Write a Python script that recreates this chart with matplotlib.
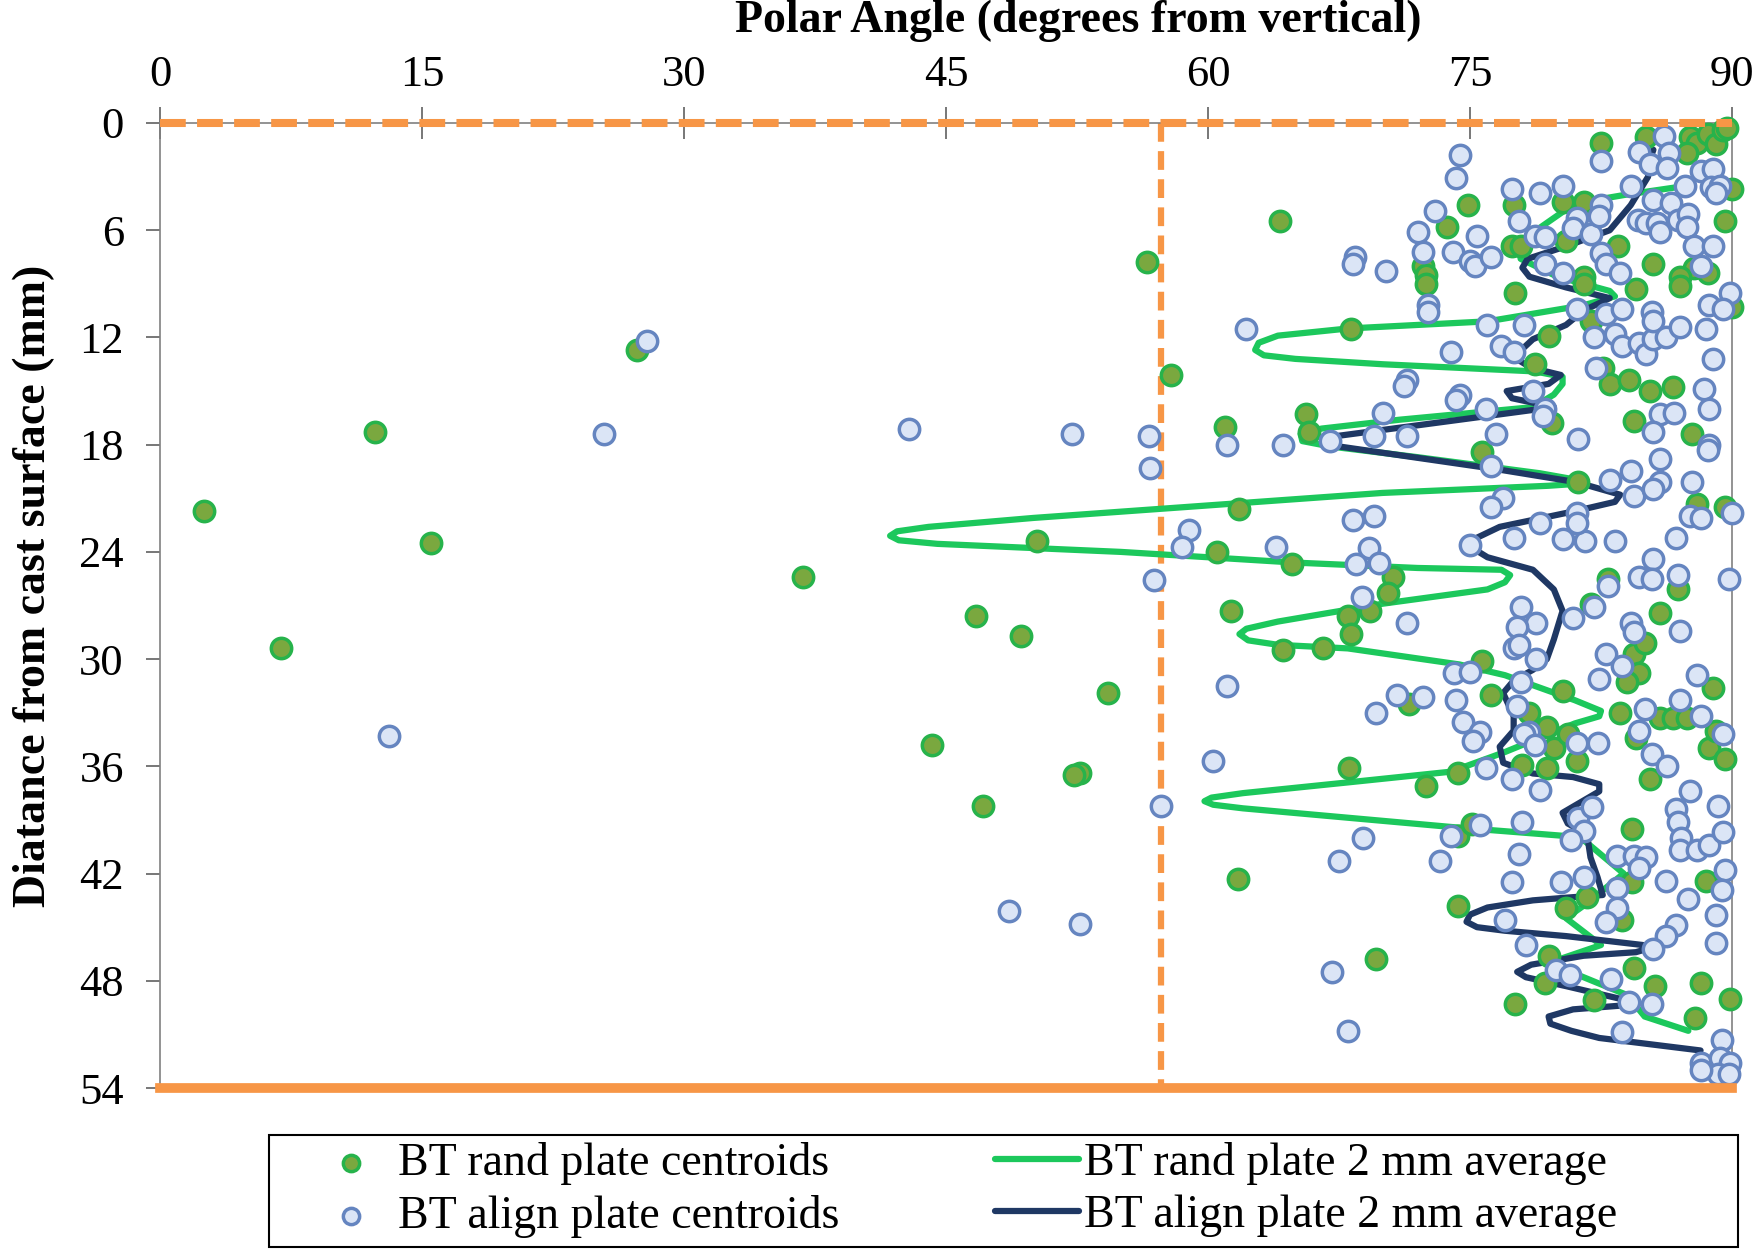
import matplotlib
matplotlib.use("Agg")
import matplotlib.pyplot as plt
from matplotlib.patches import Rectangle

plt.rcParams['font.family'] = ['Liberation Serif', 'DejaVu Serif']

# BT rand plate centroids (angle in degrees, depth in mm)
rand_angle = [56.5, 64.1, 27.3, 57.9, 12.3, 61.0, 2.5, 61.8, 15.5, 50.2, 60.5, 64.8, 36.8, 46.7,
              61.3, 6.9, 49.3, 64.3, 54.3, 44.2, 52.7, 52.3, 47.1, 61.7,
              82.5, 74.9, 73.7, 72.3, 72.5, 77.5, 77.4, 77.9, 80.3, 81.5, 80.5, 83.5, 81.5, 85.5,
              85.1, 87.6, 88.0, 88.6, 89.1, 89.5, 89.7, 87.4, 90.0, 89.6, 87.8, 88.6, 87.0,
              68.2, 72.5, 77.6, 79.5, 78.7, 81.5, 84.5, 87.0, 81.9, 82.6, 83.0, 84.1, 85.3, 86.6,
              84.4, 87.7, 90.0, 65.6, 65.8, 79.7, 75.7,
              81.2, 88.0, 89.6, 70.6, 70.3, 68.0, 69.3, 82.9, 86.9, 81.9, 85.9, 68.2,
              66.6, 75.7, 76.2, 71.5, 80.3, 78.4, 79.4, 79.8, 80.6, 81.1, 78.0, 79.4, 68.1, 74.3,
              72.5, 83.6, 84.4, 85.0, 84.7, 84.0, 85.9, 86.6, 87.4, 84.5, 88.9, 88.7, 89.6, 89.1, 85.3,
              74.3, 75.1, 84.3, 84.3, 88.5, 74.3, 80.5, 81.7, 83.7, 69.6, 79.5,
              77.6, 79.3, 82.1, 84.4, 85.6, 88.2, 89.9, 87.9]
rand_depth = [7.8, 5.5, 12.7, 14.1, 17.3, 17.0, 21.7, 21.6, 23.5, 23.4, 24.0, 24.7, 25.4, 27.6,
              27.3, 29.4, 28.7, 29.5, 31.9, 34.8, 36.4, 36.5, 38.2, 42.3,
              1.1, 4.6, 5.8, 8.0, 8.5, 4.6, 6.9, 6.9, 4.4, 4.4, 6.6, 6.9, 8.6, 7.9,
              0.8, 0.8, 1.1, 0.6, 1.2, 0.4, 0.3, 1.7, 3.7, 5.5, 8.1, 8.4, 8.6,
              11.5, 9.0, 9.5, 11.9, 13.5, 9.0, 9.3, 9.1, 11.1, 13.7, 14.6, 14.4, 15.0, 14.8,
              16.7, 17.4, 10.3, 16.3, 17.3, 16.8, 18.4,
              20.1, 21.3, 21.5, 25.4, 26.3, 27.6, 27.3, 25.5, 26.1, 26.9, 27.4, 28.6,
              29.4, 30.1, 32.0, 32.5, 31.8, 33.0, 33.8, 35.0, 34.2, 35.7, 35.9, 36.1, 36.1, 36.4,
              37.1, 33.0, 29.7, 29.1, 30.8, 31.3, 33.3, 33.3, 33.3, 34.4, 31.6, 35.0, 35.6, 34.0, 36.7,
              39.9, 39.2, 39.5, 42.5, 42.4, 43.8, 43.9, 43.3, 44.6, 46.8, 46.6,
              49.3, 48.1, 49.1, 47.3, 48.3, 48.1, 49.0, 50.1]

# BT align plate centroids
align_angle = [27.9, 25.4, 42.9, 52.2, 56.6, 56.7, 56.9, 13.1, 48.6, 52.7, 62.2, 61.1, 64.3, 58.9,
               58.5, 63.9, 61.1, 60.3, 57.3,
               74.4, 74.2, 73.0, 72.0, 72.3, 68.4, 68.3, 70.2, 75.4, 74.0, 75.0, 75.3, 76.2, 77.4,
               77.8, 79.0, 80.3, 78.7, 79.3, 79.3, 80.3, 81.1, 80.9, 81.9, 82.5, 82.4, 82.5, 82.5,
               82.8, 83.6, 84.2, 84.7, 85.3, 86.1, 86.4, 86.3, 84.6, 85.1, 85.5, 85.7, 85.9, 86.5,
               86.9, 87.5, 87.4, 87.3, 88.2, 88.9, 88.8, 89.3, 89.1, 87.8, 88.9, 88.2,
               72.6, 72.6, 73.9, 71.4, 71.2, 70.0, 69.5, 71.4, 67.0, 74.4, 74.2, 75.9, 76.0, 76.8,
               77.5, 76.5, 78.1, 78.6, 79.3, 79.2, 81.1, 81.2, 82.1, 82.2, 82.8, 83.7, 83.3, 83.7,
               84.7, 85.1, 85.5, 85.4, 85.5, 86.2, 87.0, 88.5, 88.9, 88.7, 89.9, 89.5, 88.4, 88.7,
               85.9, 86.7, 85.5, 88.7,
               68.3, 69.5, 69.2, 68.5, 69.8, 68.8, 71.4, 76.2, 76.9, 76.2, 75.0, 77.5, 79.0, 80.3,
               81.6, 81.1, 81.1, 83.3, 83.0, 84.2, 84.4, 85.9, 85.9, 85.5, 87.7, 87.6, 88.2, 86.8,
               90.0, 85.5, 84.7, 85.4, 86.9, 89.8, 82.9, 77.9, 78.8, 80.9, 82.1, 84.2, 84.4, 88.6,
               69.6, 70.8, 72.3, 74.1, 75.0, 74.2, 74.6, 75.6, 75.2, 77.7, 77.5, 77.8, 78.8, 77.9,
               77.7, 78.4, 78.1, 78.7, 81.1, 82.3, 75.9, 77.4, 79.0, 82.4, 82.8, 83.7, 87.0, 88.0,
               87.0, 85.0, 88.2, 84.7, 85.4, 86.3, 89.5, 87.6,
               68.9, 67.5, 73.3, 73.9, 75.6, 78.0, 77.8, 77.4, 80.2, 81.5, 81.2, 82.0, 81.5, 80.8,
               77.0, 78.2, 83.4, 84.4, 85.1, 84.7, 83.4, 83.4, 82.8, 86.2, 87.5, 86.8, 86.9, 87.1,
               87.0, 88.0, 88.7, 89.2, 89.5, 89.6, 89.4, 89.1, 89.1, 86.8, 86.2, 85.5,
               67.1, 68.0, 79.9, 80.7, 83.1, 84.1, 85.4, 83.7, 89.4, 88.2, 89.3, 89.9, 89.2, 89.8, 88.2]
align_depth = [12.2, 17.4, 17.1, 17.4, 17.5, 19.3, 25.6, 34.3, 44.1, 44.8, 11.5, 18.0, 18.0, 22.8,
               23.7, 23.7, 31.5, 35.7, 38.2,
               1.8, 3.1, 4.9, 6.1, 7.2, 7.5, 7.9, 8.3, 6.3, 7.2, 7.7, 8.0, 7.5, 3.7,
               5.5, 3.9, 3.5, 6.3, 6.4, 7.9, 8.4, 5.3, 5.9, 6.2, 4.6, 5.2, 2.1, 7.3,
               7.9, 8.4, 3.5, 1.6, 2.3, 0.7, 1.7, 2.5, 5.4, 5.6, 4.3, 5.6, 6.1, 4.5,
               5.4, 5.1, 5.8, 3.5, 2.7, 2.6, 3.6, 3.5, 3.9, 6.9, 6.9, 8.0,
               10.2, 10.6, 12.8, 14.4, 14.7, 16.2, 17.5, 17.5, 17.8, 15.2, 15.5, 16.0, 11.3, 12.5,
               12.8, 17.4, 11.3, 15.0, 16.0, 16.4, 10.4, 17.7, 12.0, 13.7, 10.7, 10.4, 11.8, 12.5,
               12.3, 12.9, 12.1, 10.6, 11.1, 12.0, 11.4, 11.5, 13.2, 10.2, 9.5, 10.4, 14.9, 16.0,
               16.3, 16.2, 17.3, 18.0,
               22.2, 22.0, 23.8, 24.7, 24.6, 26.5, 28.0, 19.2, 21.0, 21.5, 23.6, 23.2, 22.4, 23.3,
               23.4, 21.8, 22.4, 23.4, 20.0, 19.5, 20.9, 18.8, 20.1, 20.5, 20.1, 22.0, 22.1, 23.2,
               21.8, 24.4, 25.4, 25.5, 25.3, 25.5, 25.9, 27.1, 28.0, 27.7, 27.1, 28.0, 28.5, 18.3,
               33.0, 32.0, 32.1, 30.8, 30.7, 32.3, 33.5, 34.1, 34.6, 28.2, 29.4, 29.2, 30.0, 31.3,
               32.6, 34.1, 34.2, 34.8, 34.7, 34.7, 36.1, 36.7, 37.3, 31.1, 29.7, 30.4, 28.4, 30.9,
               32.3, 32.8, 33.2, 34.0, 35.3, 36.0, 34.2, 37.4,
               40.0, 41.3, 41.3, 39.9, 39.3, 39.1, 40.9, 42.5, 42.5, 42.2, 38.9, 38.3, 39.6, 40.1,
               44.6, 46.0, 41.0, 41.0, 41.1, 41.7, 42.8, 43.9, 44.7, 42.4, 43.4, 38.4, 39.1, 40.0,
               40.7, 40.7, 40.4, 38.2, 39.7, 41.8, 42.9, 44.3, 45.9, 44.9, 45.5, 46.2,
               47.5, 50.8, 47.4, 47.7, 47.9, 49.2, 49.3, 50.85, 51.3, 52.6, 52.3, 52.6, 53.2, 53.2, 53.0]

# BT rand plate 2 mm average (vertices)
rand_avg_angle = [87.5, 84.0, 81.0, 78.8, 77.8, 77.9, 80.0, 83.0, 83.3, 81.5, 76.0, 68.0, 64.0, 62.9,
                  62.7, 63.2, 65.0, 70.0, 78.7, 80.3, 80.3, 79.8, 78.6, 71.0, 66.5, 65.3, 65.4, 67.0,
                  72.0, 79.0, 81.3, 81.0, 79.5, 70.0, 60.0, 50.0, 44.0, 42.2, 41.8, 42.3, 44.5, 55.0,
                  65.0, 72.0, 76.8, 77.3, 77.0, 76.0, 70.0, 64.0, 62.2, 61.8, 62.3, 64.0, 68.0, 74.4,
                  77.0, 81.0, 82.5, 82.4, 81.0, 77.0, 73.9, 68.0, 62.0, 60.2, 59.8, 60.3, 62.0, 66.0,
                  74.0, 80.5, 81.6, 83.8, 81.5, 80.5, 82.5, 79.5, 81.5, 84.0, 85.0, 87.5]
rand_avg_depth = [3.5, 4.0, 4.5, 6.0, 7.0, 7.6, 8.6, 9.4, 9.7, 10.2, 11.1, 11.5, 11.9, 12.3,
                  12.7, 13.0, 13.2, 13.5, 13.9, 14.2, 14.6, 15.2, 15.9, 16.6, 17.1, 17.4, 17.8, 18.1,
                  18.7, 19.6, 20.0, 20.2, 20.3, 20.7, 21.4, 22.1, 22.6, 22.85, 23.1, 23.35, 23.55, 24.0,
                  24.6, 24.9, 25.0, 25.3, 25.7, 26.1, 26.9, 27.9, 28.3, 28.6, 28.95, 29.2, 29.4, 30.3,
                  30.9, 32.3, 32.9, 33.2, 33.6, 35.2, 36.3, 36.9, 37.5, 37.75, 37.95, 38.15, 38.35, 38.7,
                  39.4, 39.9, 40.2, 42.0, 43.8, 44.5, 46.0, 47.0, 47.8, 48.8, 50.0, 50.8]

# BT align plate 2 mm average
align_avg_angle = [85.5, 85.2, 85.2, 84.2, 83.0, 80.5, 78.3, 78.0, 78.4, 80.5, 83.0, 81.5, 80.5, 78.6,
                   77.5, 78.5, 80.2, 79.5, 77.1, 77.4, 79.8, 72.9, 67.5, 67.0, 67.5, 76.7, 81.1, 83.6,
                   83.3, 81.1, 76.7, 75.2, 75.0, 76.0, 78.6, 79.8, 80.3, 79.8, 79.4, 78.6, 77.5, 76.9,
                   77.5, 77.5, 76.7, 76.9, 78.6, 80.9, 82.4, 82.4, 80.3, 80.6, 81.7, 81.9, 82.3, 82.6,
                   80.5, 78.6, 76.0, 75.0, 74.8, 75.4, 77.0, 80.5, 84.9, 85.2, 84.5, 81.5, 78.5, 77.7,
                   78.2, 80.5, 84.0, 84.4, 83.5, 80.9, 79.5, 79.6, 80.8, 82.4, 88.2]
align_avg_depth = [1.5, 2.3, 3.0, 4.6, 6.0, 6.9, 7.6, 8.1, 8.6, 9.2, 9.8, 10.5, 11.3, 12.1,
                   13.1, 13.7, 14.1, 14.6, 15.0, 15.4, 15.9, 16.8, 17.5, 17.8, 18.1, 19.4, 20.1, 20.8,
                   21.2, 21.7, 22.6, 23.3, 23.7, 24.3, 25.0, 26.1, 27.3, 28.9, 30.0, 30.6, 31.2, 31.9,
                   33.2, 34.0, 34.9, 35.8, 36.4, 36.6, 37.0, 37.4, 38.6, 39.2, 39.8, 41.1, 42.2, 43.2,
                   43.35, 43.5, 43.9, 44.3, 44.7, 45.0, 45.2, 45.5, 46.0, 46.2, 46.4, 46.6, 47.1, 47.5,
                   47.8, 48.3, 49.1, 49.3, 49.4, 49.6, 50.0, 50.4, 50.8, 51.2, 51.9]

x_ticks = [0, 15, 30, 45, 60, 75, 90]
y_ticks = [0, 6, 12, 18, 24, 30, 36, 42, 48, 54]
ref_angle = 57.3

orange = '#f79646'

fig = plt.figure(figsize=(17.58, 12.54), dpi=100)
fig.set_facecolor('white')
ax = fig.add_axes([160 / 1758, 1 - 1088 / 1254, 1572 / 1758, 965 / 1254])

l1, = ax.plot(rand_avg_angle, rand_avg_depth, color='#1cc85c', lw=4.5, zorder=3,
              solid_joinstyle='round', solid_capstyle='round', label='BT rand plate 2 mm average')
l2, = ax.plot(align_avg_angle, align_avg_depth, color='#1f3864', lw=4.5, zorder=3,
              solid_joinstyle='round', solid_capstyle='round', label='BT align plate 2 mm average')
s1 = ax.scatter(rand_angle, rand_depth, s=215, facecolor='#7aa83f', edgecolor='#27b34b',
                linewidth=2.5, zorder=4, clip_on=False, label='BT rand plate centroids')
s2 = ax.scatter(align_angle, align_depth, s=215, facecolor='#dbe5f6', edgecolor='#6585c0',
                linewidth=2.5, zorder=5, clip_on=False, label='BT align plate centroids')

# reference lines
ax.plot([0, 90], [0, 0], color=orange, lw=5.8, dashes=(3.2, 1.4), zorder=6, clip_on=False)
ax.plot([ref_angle, ref_angle], [0, 54], color=orange, lw=4.5, dashes=(3.0, 1.5), zorder=2)
ax.plot([0, 90], [54, 54], color=orange, lw=7, zorder=6, clip_on=False)

ax.set_xlim(0, 90)
ax.set_ylim(54, 0)
ax.xaxis.tick_top()
ax.set_xticks(x_ticks)
ax.set_yticks(y_ticks)
ax.tick_params(axis='x', direction='inout', length=23, width=1.2, pad=9,
               labelsize=32, color='#606060')
ax.tick_params(axis='y', direction='out', length=10, width=1.2, pad=16,
               labelsize=32, color='#606060')
for sp in ax.spines.values():
    sp.set_color('#808080')
    sp.set_linewidth(1.2)

fig.text(1078 / 1758, 1 - 21 / 1254, 'Polar Angle (degrees from vertical)', fontsize=33,
         fontweight='bold', ha='center', va='center')
fig.text(34 / 1758, 1 - 586 / 1254, 'Diatance from cast surface (mm)', fontsize=33,
         fontweight='bold', ha='center', va='center', rotation=90)

# legend box
fig.patches.append(Rectangle((269 / 1758, 1 - 1247 / 1254), 1469 / 1758, 112 / 1254,
                             transform=fig.transFigure, fill=False, edgecolor='black',
                             linewidth=1.5))
leg = fig.legend([s1, s2, l1, l2],
                 ['BT rand plate centroids', 'BT align plate centroids',
                  'BT rand plate 2 mm average', 'BT align plate 2 mm average'],
                 ncol=2, loc='center left', bbox_to_anchor=(309 / 1758, 1 - 1190 / 1254),
                 frameon=False, fontsize=33, borderpad=0, borderaxespad=0, handlelength=1.83,
                 handletextpad=0.11, columnspacing=3.4, labelspacing=0.2,
                 markerscale=0.8, scatterpoints=1)

fig.savefig('out.png', dpi=100)
